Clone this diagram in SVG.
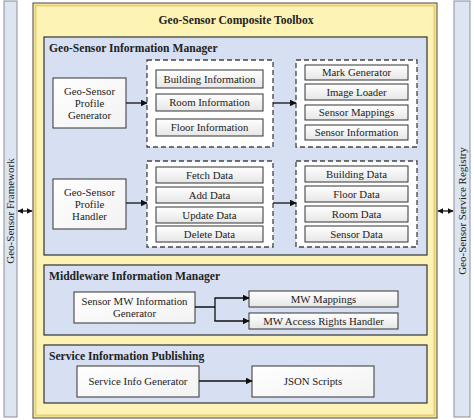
<svg xmlns="http://www.w3.org/2000/svg" width="474" height="420" viewBox="0 0 474 420">
<defs>
<linearGradient id="gi" x1="0" y1="0" x2="0" y2="1">
<stop offset="0" stop-color="#ffffff"/>
<stop offset="1" stop-color="#e6e6e6"/>
</linearGradient>
<linearGradient id="gn" x1="0" y1="0" x2="1" y2="1">
<stop offset="0" stop-color="#ffffff"/>
<stop offset="1" stop-color="#f2f2f2"/>
</linearGradient>
<marker id="ah" viewBox="0 0 10 10" refX="9" refY="5" markerWidth="7" markerHeight="7" markerUnits="userSpaceOnUse" orient="auto">
<path d="M0,0 L10,5 L0,10 z" fill="#111"/>
</marker>
<marker id="ah2" viewBox="0 0 10 10" refX="9" refY="5" markerWidth="6" markerHeight="6" markerUnits="userSpaceOnUse" orient="auto-start-reverse">
<path d="M0,0 L10,5 L0,10 z" fill="#111"/>
</marker>
</defs>
<style>
text{font-family:"Liberation Serif","DejaVu Serif",serif;fill:#222}
.t{font-size:10.8px;text-anchor:middle}
.h{font-size:11.6px;font-weight:bold}
.side{fill:#dde5f3;stroke:#8a8f99;stroke-width:1}
.panel{fill:#d7e0f2;stroke:#333;stroke-width:1.2}
.node{fill:url(#gn);stroke:#333;stroke-width:1}
.item{fill:url(#gi);stroke:#333;stroke-width:1}
.grp{fill:#fff;stroke:#444;stroke-width:1.3;stroke-dasharray:5,3}
.c{stroke:#111;stroke-width:1.3;fill:none}
</style>
<rect width="474" height="420" fill="#fff"/>
<g id="framework">
<rect class="side" x="4" y="1" width="13" height="416"/>
<text class="t" transform="translate(14,211) rotate(-90)" style="font-size:11px">Geo-Sensor Framework</text>
</g>
<g id="registry">
<rect class="side" x="454" y="1" width="16" height="416"/>
<text class="t" transform="translate(466,211) rotate(-90)" style="font-size:11px">Geo-Sensor Service Registry</text>
</g>
<g id="toolbox">
<rect x="33" y="3" width="404" height="415" fill="#fdf3b4" stroke="#444" stroke-width="1"/>
<rect x="35.5" y="5.5" width="399" height="410" fill="none" stroke="#e8cf72" stroke-width="2"/>
<text class="h" x="236" y="24" text-anchor="middle">Geo-Sensor Composite Toolbox</text>
</g>
<g id="gsim">
<rect class="panel" x="44" y="37" width="383" height="218"/>
<text class="h" x="49" y="52">Geo-Sensor Information Manager</text>
</g>
<g id="profile-generator">
<rect class="node" x="53" y="78" width="73" height="50"/>
<text class="t" x="89.5" y="95">Geo-Sensor</text>
<text class="t" x="89.5" y="107">Profile</text>
<text class="t" x="89.5" y="119">Generator</text>
</g>
<g id="info-group">
<rect class="grp" x="147" y="60" width="126" height="87"/>
<rect class="item" x="156" y="70" width="107" height="18"/>
<text class="t" x="209.5" y="82.5">Building Information</text>
<rect class="item" x="156" y="94" width="107" height="17"/>
<text class="t" x="209.5" y="106">Room Information</text>
<rect class="item" x="156" y="119" width="107" height="17"/>
<text class="t" x="209.5" y="131">Floor Information</text>
</g>
<g id="loader-group">
<rect class="grp" x="296" y="60" width="121" height="87"/>
<rect class="item" x="305" y="65" width="103" height="15"/>
<text class="t" x="356.5" y="76">Mark Generator</text>
<rect class="item" x="305" y="84" width="103" height="16"/>
<text class="t" x="356.5" y="95.5">Image Loader</text>
<rect class="item" x="305" y="105" width="103" height="15"/>
<text class="t" x="356.5" y="116">Sensor Mappings</text>
<rect class="item" x="305" y="125" width="103" height="15"/>
<text class="t" x="356.5" y="136">Sensor Information</text>
</g>
<g id="profile-handler">
<rect class="node" x="53" y="179" width="73" height="50"/>
<text class="t" x="89.5" y="196">Geo-Sensor</text>
<text class="t" x="89.5" y="208">Profile</text>
<text class="t" x="89.5" y="220">Handler</text>
</g>
<g id="data-ops">
<rect class="grp" x="147" y="161" width="126" height="86"/>
<rect class="item" x="156" y="167" width="107" height="16"/>
<text class="t" x="209.5" y="178.5">Fetch Data</text>
<rect class="item" x="156" y="187" width="107" height="16"/>
<text class="t" x="209.5" y="198.5">Add Data</text>
<rect class="item" x="156" y="207" width="107" height="16"/>
<text class="t" x="209.5" y="218.5">Update Data</text>
<rect class="item" x="156" y="226" width="107" height="16"/>
<text class="t" x="209.5" y="237.5">Delete Data</text>
</g>
<g id="data-types">
<rect class="grp" x="296" y="161" width="121" height="86"/>
<rect class="item" x="305" y="166" width="103" height="16"/>
<text class="t" x="356.5" y="177.5">Building Data</text>
<rect class="item" x="305" y="186" width="103" height="16"/>
<text class="t" x="356.5" y="197.5">Floor Data</text>
<rect class="item" x="305" y="206" width="103" height="16"/>
<text class="t" x="356.5" y="217.5">Room Data</text>
<rect class="item" x="305" y="226" width="103" height="16"/>
<text class="t" x="356.5" y="237.5">Sensor Data</text>
</g>
<g id="mim">
<rect class="panel" x="44" y="265" width="383" height="70"/>
<text class="h" x="49" y="280">Middleware Information Manager</text>
</g>
<g id="mw-generator">
<rect class="node" x="74" y="292" width="121" height="31"/>
<text class="t" x="134.5" y="305">Sensor MW Information</text>
<text class="t" x="134.5" y="317">Generator</text>
</g>
<g id="mw-mappings">
<rect class="item" x="249" y="291" width="149" height="16"/>
<text class="t" x="323.5" y="302.5">MW Mappings</text>
</g>
<g id="mw-access">
<rect class="item" x="249" y="313" width="149" height="16"/>
<text class="t" x="323.5" y="324.5">MW Access Rights Handler</text>
</g>
<g id="sip">
<rect class="panel" x="44" y="345" width="383" height="58"/>
<text class="h" x="49" y="360">Service Information Publishing</text>
</g>
<g id="service-generator">
<rect class="node" x="77" y="366" width="122" height="31"/>
<text class="t" x="138" y="385">Service Info Generator</text>
</g>
<g id="json">
<rect class="node" x="252" y="366" width="122" height="31"/>
<text class="t" x="313" y="385">JSON Scripts</text>
</g>
<g id="connectors">
<line class="c" x1="126" y1="103" x2="147" y2="103" marker-end="url(#ah)"/>
<line class="c" x1="273" y1="103" x2="296" y2="103" marker-end="url(#ah)"/>
<line class="c" x1="126" y1="203" x2="147" y2="203" marker-end="url(#ah)"/>
<line class="c" x1="273" y1="203" x2="296" y2="203" marker-end="url(#ah)"/>
<path class="c" d="M195,307 H215 M215,298 V321"/>
<line class="c" x1="214.4" y1="298" x2="249" y2="298" marker-end="url(#ah)"/>
<line class="c" x1="214.4" y1="321" x2="249" y2="321" marker-end="url(#ah)"/>
<line class="c" x1="199" y1="381" x2="252" y2="381" marker-end="url(#ah)"/>
<line class="c" x1="18" y1="211" x2="32" y2="211" marker-start="url(#ah2)" marker-end="url(#ah2)"/>
<line class="c" x1="438" y1="211" x2="453" y2="211" marker-start="url(#ah2)" marker-end="url(#ah2)"/>
</g>
</svg>
